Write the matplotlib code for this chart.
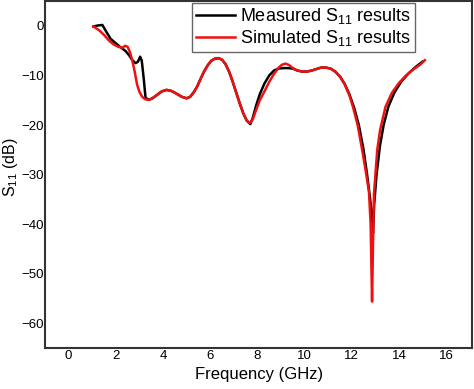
import numpy as np
import matplotlib
matplotlib.use('Agg')
import matplotlib.pyplot as plt

plt.rcParams['font.family'] = ['Liberation Sans', 'DejaVu Sans']
plt.rcParams['mathtext.fontset'] = 'custom'
plt.rcParams['mathtext.rm'] = 'Liberation Sans'

# measured S11 (GHz, dB)
meas_f = [1.05, 1.25, 1.43, 1.6, 1.78, 2.0, 2.2, 2.4, 2.56, 2.7, 2.84, 2.94, 3.03, 3.1, 3.18, 3.26,
          3.4, 3.55, 3.75, 3.95, 4.15, 4.35, 4.55, 4.8, 5.0, 5.15, 5.3, 5.45, 5.6, 5.75, 5.9, 6.05,
          6.2, 6.35, 6.5, 6.65, 6.8, 6.95, 7.1, 7.25, 7.4, 7.55, 7.7, 7.8, 7.95, 8.1, 8.3, 8.5,
          8.7, 8.9, 9.1, 9.3, 9.5, 9.7, 9.9, 10.1, 10.3, 10.5, 10.7, 10.9, 11.1, 11.3, 11.5, 11.7,
          11.9, 12.1, 12.3, 12.5, 12.65, 12.78, 12.86, 12.9, 12.95, 13.05, 13.2, 13.35, 13.55,
          13.8, 14.1, 14.4, 14.7, 15.0]
meas_db = [-0.1, 0.1, 0.2, -1.2, -2.6, -3.5, -4.3, -5.0, -5.9, -6.9, -7.5, -7.2, -6.2, -7.0, -10.5, -14.5,
           -14.9, -14.6, -13.9, -13.2, -12.9, -13.1, -13.6, -14.3, -14.6, -14.3, -13.4, -12.2, -10.6, -9.1, -7.9, -7.0,
           -6.6, -6.5, -6.8, -7.7, -9.2, -11.2, -13.4, -15.6, -17.6, -19.1, -19.8, -18.6, -16.0, -13.8, -11.6, -10.0,
           -9.0, -8.6, -8.5, -8.5, -8.6, -9.0, -9.2, -9.2, -9.0, -8.7, -8.4, -8.4, -8.6, -9.2, -10.2, -11.7,
           -13.8, -16.5, -20.0, -25.0, -30.0, -35.0, -38.5, -41.8, -36.0, -30.0, -24.0, -20.0, -16.3,
           -13.5, -11.2, -9.6, -8.3, -7.2]

# simulated S11 (GHz, dB)
sim_f = [1.05, 1.3, 1.5, 1.7, 1.9, 2.1, 2.27, 2.4, 2.5, 2.6, 2.7, 2.8, 2.9, 3.0, 3.12, 3.25,
         3.4, 3.55, 3.75, 3.95, 4.15, 4.35, 4.55, 4.8, 5.0, 5.15, 5.3, 5.45, 5.6, 5.75, 5.9, 6.05,
         6.2, 6.35, 6.5, 6.65, 6.8, 6.95, 7.1, 7.25, 7.4, 7.55, 7.68, 7.8, 7.95, 8.1, 8.3, 8.5,
         8.7, 8.9, 9.05, 9.2, 9.35, 9.5, 9.7, 9.9, 10.1, 10.3, 10.5, 10.7, 10.9, 11.1, 11.3, 11.5,
         11.7, 11.9, 12.05, 12.25, 12.44, 12.6, 12.73, 12.8, 12.86, 12.9, 12.94, 13.08, 13.2, 13.43,
         13.7, 14.0, 14.3, 14.6, 14.9, 15.1]
sim_db = [-0.1, -0.9, -1.8, -2.9, -3.7, -4.2, -4.4, -4.0, -4.2, -5.3, -7.0, -9.2, -11.8, -13.3, -14.3, -14.8,
          -14.9, -14.6, -13.9, -13.2, -12.9, -13.1, -13.6, -14.3, -14.6, -14.3, -13.4, -12.2, -10.6, -9.1, -7.9, -7.0,
          -6.6, -6.5, -6.8, -7.7, -9.2, -11.2, -13.4, -15.6, -17.6, -19.1, -19.6, -18.9, -16.9, -15.0, -13.2, -11.3,
          -9.7, -8.4, -7.8, -7.6, -7.9, -8.5, -9.0, -9.2, -9.2, -9.0, -8.7, -8.4, -8.4, -8.6, -9.2, -10.2,
          -11.8, -14.0, -16.3, -20.0, -25.0, -29.5, -33.5, -40.0, -55.6, -44.0, -34.0, -25.0, -21.0, -16.3,
          -13.5, -11.5, -10.0, -8.8, -7.8, -6.9]

xticks = [0, 2, 4, 6, 8, 10, 12, 14, 16]
yticks = [0, -10, -20, -30, -40, -50, -60]

fig = plt.figure(figsize=(4.74, 3.89), dpi=100)
ax = fig.add_axes([0.095, 0.105, 0.901, 0.892])

ax.plot(meas_f, meas_db, color='black', lw=1.8, label=r'Measured $\mathregular{S_{11}}$ results')
ax.plot(sim_f, sim_db, color='#ee1111', lw=1.8, label=r'Simulated $\mathregular{S_{11}}$ results')

ax.set_xlim(-1, 17.1)
ax.set_ylim(-65, 5)
ax.set_xticks(xticks)
ax.set_yticks(yticks)
ax.tick_params(length=0, labelsize=9.5, pad=1)
for s in ax.spines.values():
    s.set_linewidth(1.5)
    s.set_color('#333333')

ax.set_xlabel('Frequency (GHz)', fontsize=12, labelpad=4)
ax.set_ylabel(r'$\mathregular{S_{11}}$ (dB)', fontsize=11.5)
ax.yaxis.set_label_coords(-0.058, 0.52)

leg = ax.legend(loc='upper left', bbox_to_anchor=(0.344, 0.996), fontsize=13,
                fancybox=False, framealpha=1, edgecolor='#666666',
                handlelength=2.2, handletextpad=0.25, borderpad=0.2,
                labelspacing=0.1, borderaxespad=0)
leg.get_frame().set_linewidth(1.0)

fig.savefig('out.png', dpi=100)
